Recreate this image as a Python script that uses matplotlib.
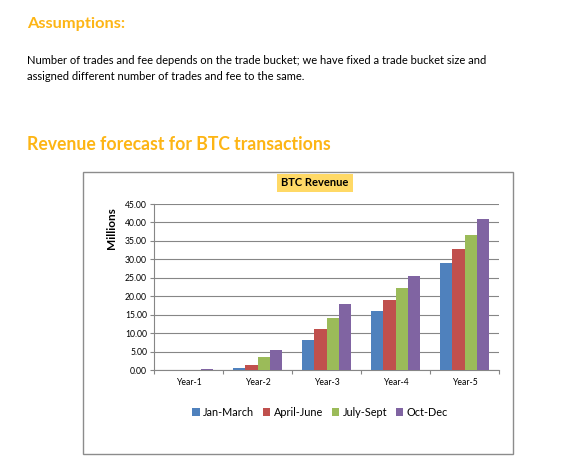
import numpy as np
import matplotlib.pyplot as plt
from matplotlib.patches import Rectangle

# Data (millions)
years = ["Year-1", "Year-2", "Year-3", "Year-4", "Year-5"]
quarters = ["Jan-March", "April-June", "July-Sept", "Oct-Dec"]
jan_march = [0.0, 0.6, 8.0, 16.1, 29.0]
april_june = [0.0, 1.4, 11.0, 19.1, 32.8]
july_sept = [0.0, 3.6, 14.2, 22.1, 36.5]
oct_dec = [0.3, 5.5, 18.0, 25.4, 41.0]
series = [jan_march, april_june, july_sept, oct_dec]
colors = ["#4F81BD", "#C0504D", "#9BBB59", "#8064A2"]

heading_color = "#FDB515"
grid_color = "#868686"
font = ["Lato", "DejaVu Sans"]
plt.rcParams["font.family"] = font

fig = plt.figure(figsize=(5.69, 4.76), dpi=100)

# document text
fig.text(27 / 569, 1 - 24 / 476, "Assumptions:", color=heading_color,
         fontsize=11.8, fontweight="bold", va="center", ha="left")
fig.text(27 / 569, 1 - 61 / 476,
         "Number of trades and fee depends on the trade bucket; we have fixed a trade bucket size and",
         fontsize=8.0, va="center", ha="left", color="black")
fig.text(27 / 569, 1 - 77 / 476,
         "assigned different number of trades and fee to the same.",
         fontsize=8.0, va="center", ha="left", color="black")
fig.text(27 / 569, 1 - 145 / 476, "Revenue forecast for BTC transactions", color=heading_color,
         fontsize=12.7, fontweight="bold", va="center", ha="left")

# chart border
fig.patches.append(Rectangle((83 / 569, 1 - 454 / 476), 430 / 569, 282 / 476,
                             transform=fig.transFigure, fill=False,
                             edgecolor="#8C8C8C", linewidth=1.0))

ax = fig.add_axes([154 / 569, 1 - 370 / 476, 345 / 569, 166 / 476])

x = np.arange(len(years))
width = 0.18
for i, (vals, name, c) in enumerate(zip(series, quarters, colors)):
    ax.bar(x + (i - 1.5) * width, vals, width, color=c, label=name, zorder=3)

ax.set_xlim(-0.5, len(years) - 0.5)
ax.set_ylim(0, 45)
ax.set_yticks(np.arange(0, 46, 5))
ax.set_yticklabels([f"{v:.2f}" for v in np.arange(0, 46, 5)], fontsize=6.2)
ax.set_xticks(x)
ax.set_xticklabels(years, fontsize=6.2)
ax.set_xticks(np.arange(-0.5, len(years), 1), minor=True)
ax.tick_params(axis="x", which="major", length=0, pad=6)
ax.tick_params(axis="x", which="minor", length=3, color=grid_color, width=0.8)
ax.tick_params(axis="y", length=3, color=grid_color, width=0.8, pad=2)

ax.grid(axis="y", color=grid_color, linewidth=0.8, zorder=0)
for side in ["top", "right"]:
    ax.spines[side].set_visible(False)
ax.spines["left"].set_color(grid_color)
ax.spines["bottom"].set_color(grid_color)
ax.spines["left"].set_linewidth(0.8)
ax.spines["bottom"].set_linewidth(0.8)

ax.set_ylabel("Millions", fontsize=8.5, fontweight="bold")
ax.yaxis.set_label_coords(-0.107, 0.855)

fig.text(315 / 569, 1 - 183 / 476, "BTC Revenue", fontsize=8, fontweight="bold",
         ha="center", va="center",
         bbox=dict(boxstyle="square,pad=0.35", facecolor="#FFD966", edgecolor="none"))

fig.legend(loc="center", bbox_to_anchor=(320 / 569, 1 - 412 / 476), ncol=4,
           fontsize=7.8, frameon=False, handlelength=0.7, handleheight=0.7,
           handletextpad=0.3, columnspacing=0.8)

fig.savefig("out.png", dpi=100)
